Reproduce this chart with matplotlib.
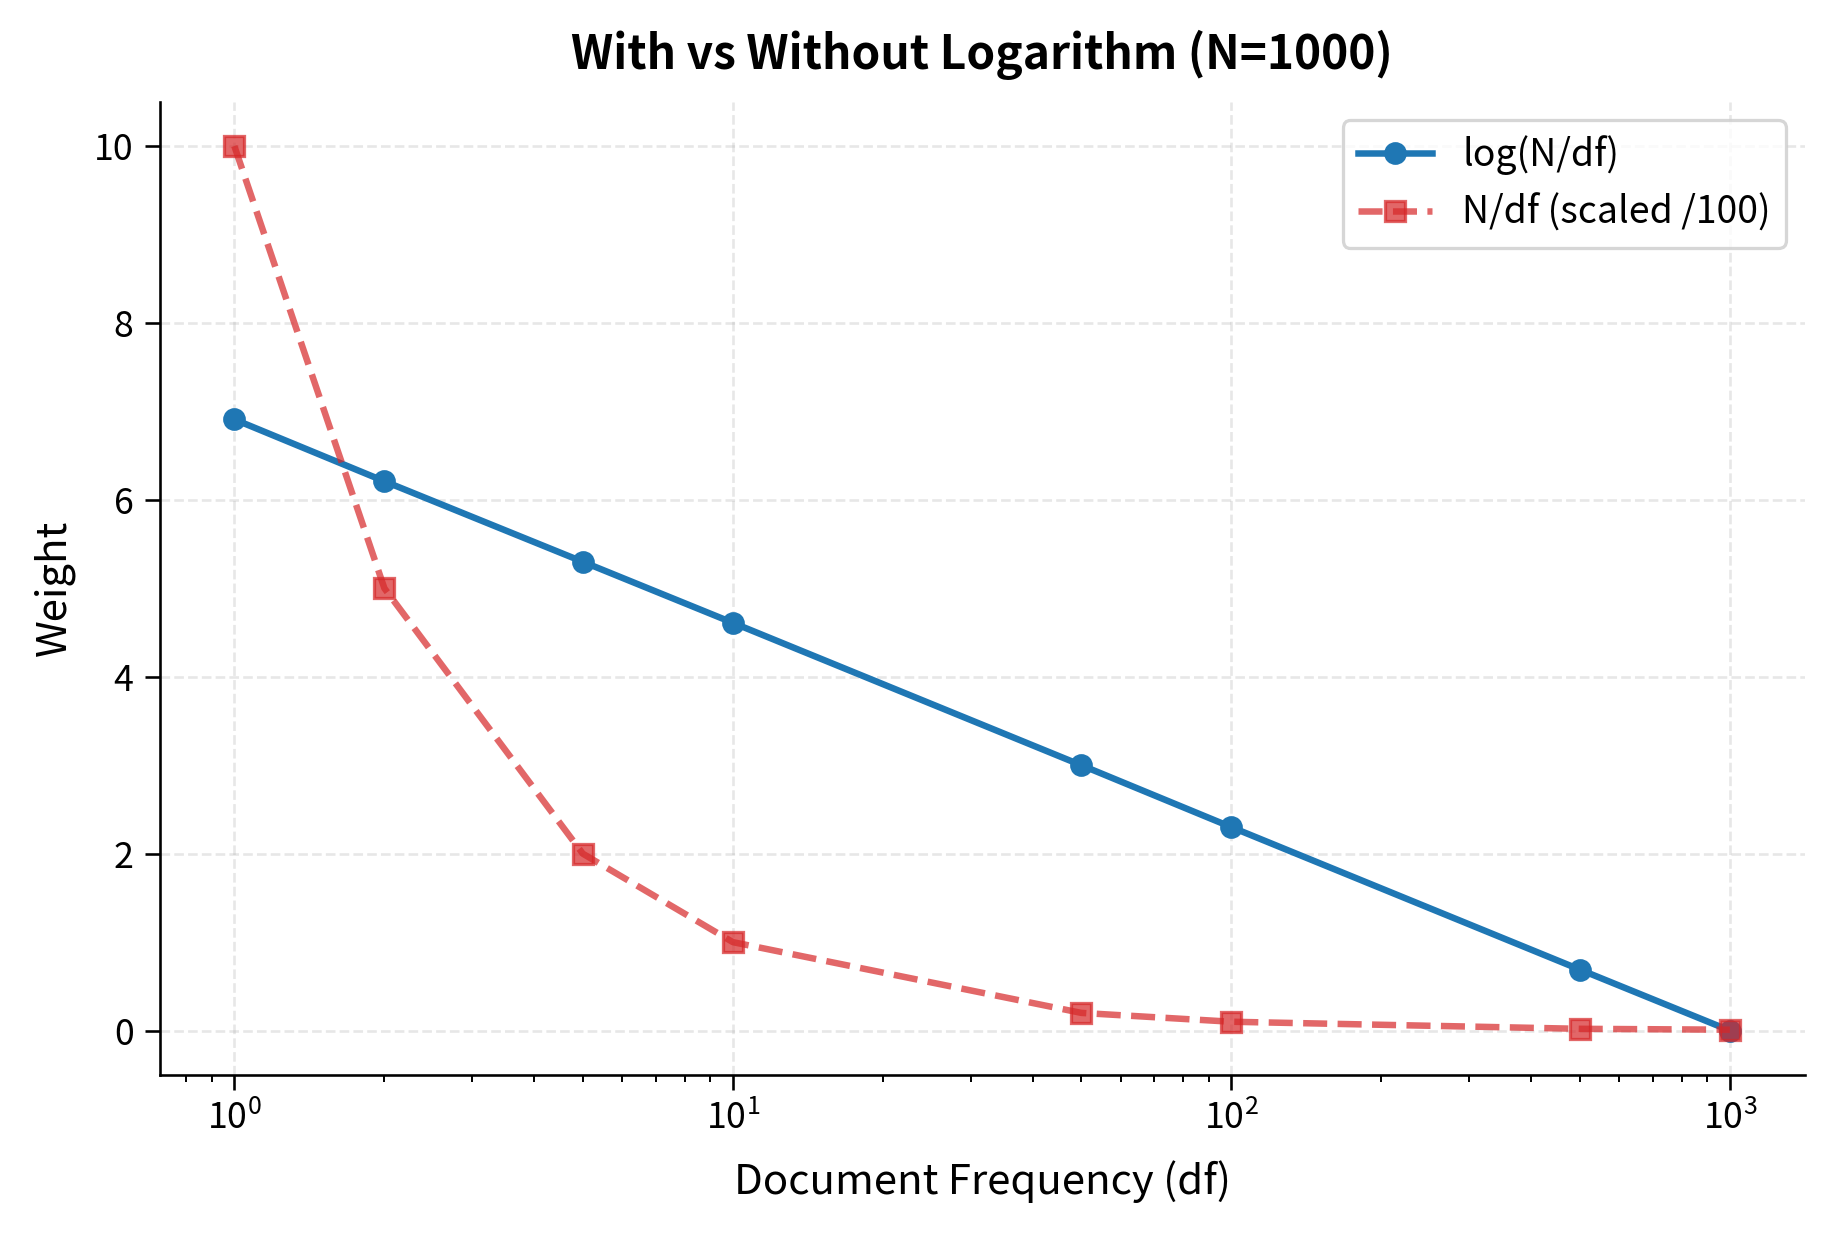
import numpy as np
import matplotlib.pyplot as plt

plt.rcParams['font.family'] = ['Noto Sans CJK JP', 'DejaVu Sans']
plt.rcParams['mathtext.fontset'] = 'custom'
plt.rcParams['mathtext.rm'] = 'Noto Sans CJK JP'

N = 1000
df = [1, 2, 5, 10, 50, 100, 500, 1000]
log_weight = [6.91, 6.21, 5.30, 4.61, 3.00, 2.30, 0.69, 0.00]
raw_scaled = [10.0, 5.0, 2.0, 1.0, 0.2, 0.1, 0.02, 0.01]

fig, ax = plt.subplots(figsize=(1834 / 234, 1234 / 234), dpi=234)
fig.subplots_adjust(left=0.087, right=0.984, bottom=0.129, top=0.9175)

ax.plot(df, log_weight, marker='o', color='#1f77b4', linewidth=2,
        markersize=6, label='log(N/df)')
ax.plot(df, raw_scaled, marker='s', linestyle='--', color='#d62728',
        alpha=0.7, linewidth=2, markersize=6, label='N/df (scaled /100)')

ax.set_xscale('log')
ax.set_xlabel('Document Frequency (df)', fontsize=12.9, labelpad=7)
ax.set_ylabel('Weight', fontsize=12.9, labelpad=6)
ax.set_title(f'With vs Without Logarithm (N={N})', fontsize=14.2,
             fontweight='bold', pad=10)
ax.grid(True, linestyle='--', alpha=0.3)
ax.spines['top'].set_visible(False)
ax.spines['right'].set_visible(False)
ax.legend(fontsize=11.5)
ax.tick_params(labelsize=11)
ax.tick_params(which='major', length=4.5)

fig.savefig('out.png', dpi=234)
